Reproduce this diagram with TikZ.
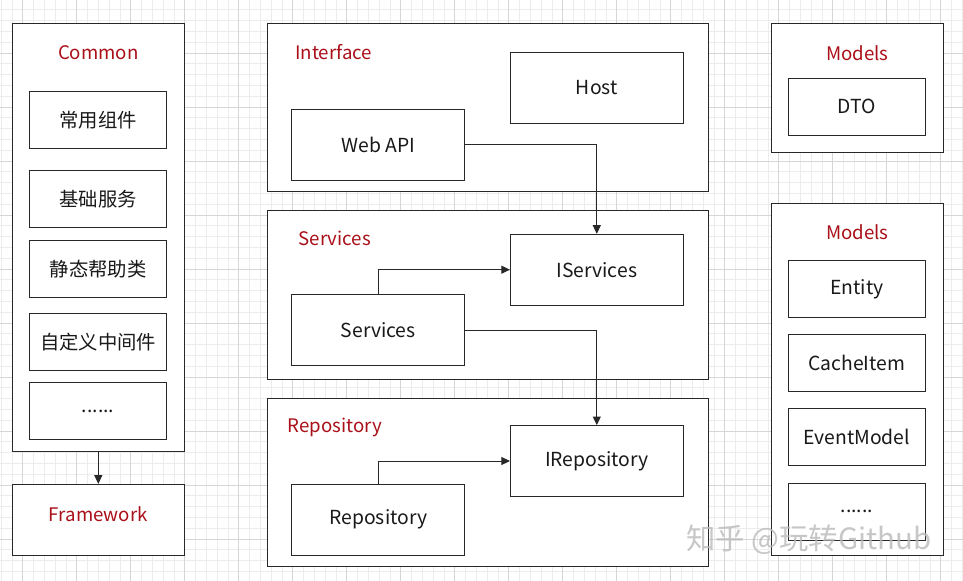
\documentclass[tikz,border=0pt]{standalone}
\usepackage{fontspec}
\setmainfont{Noto Sans CJK SC}
\usetikzlibrary{arrows.meta}
\definecolor{titlered}{RGB}{170,16,26}
\definecolor{gridminor}{RGB}{236,236,236}
\definecolor{gridmajor}{RGB}{214,214,214}
\definecolor{linegray}{RGB}{40,40,40}
\tikzset{
  box/.style={draw=linegray, fill=white, line width=0.75pt, inner sep=0pt,
    font=\fontsize{14.5}{17}\selectfont, text=black!90},
  comp/.style={box, minimum width=129.5pt, minimum height=53pt},
  item/.style={box, minimum width=102.5pt, minimum height=43pt},
  title/.style={text=titlered, font=\fontsize{14}{17}\selectfont, inner sep=0pt},
  link/.style={draw=linegray, line width=0.75pt, -{Triangle[width=6pt,length=6.5pt]}},
}
\begin{document}
\begin{tikzpicture}[x=0.75pt, y=-0.75pt]
    \useasboundingbox (0,0) rectangle (963,581);
    %Raster
    \fill[white] (0,0) rectangle (963,581);
    \foreach \i in {0,...,89} \draw[gridminor, line width=0.5pt] (1.1+10.8*\i,0) -- (1.1+10.8*\i,581);
    \foreach \j in {0,...,53} \draw[gridminor, line width=0.5pt] (0,9.8+10.8*\j) -- (963,9.8+10.8*\j);
    \foreach \i in {0,...,17} \draw[gridmajor, line width=0.5pt] (22.7+54*\i,0) -- (22.7+54*\i,581);
    \foreach \j in {0,...,10} \draw[gridmajor, line width=0.5pt] (0,53+54*\j) -- (963,53+54*\j);
    %Common
    \node[box, minimum width=129pt, minimum height=321pt] (common) at (98.3,237.2) {};
    \node[title] (commontitle) at (98.3,53) {Common};
    \node[item] (widgets)    at (98,120.3) {常用组件};
    \node[item] (baseserv)   at (98,198.8) {基础服务};
    \node[item] (helpers)    at (98,269.3) {静态帮助类};
    \node[item] (middleware) at (98,341.8) {自定义中间件};
    \node[item] (commonmore) at (98,411.2) {......};
    \node[comp, minimum width=129pt, text=titlered, font=\fontsize{14}{17}\selectfont,
      text depth=9pt] (framework) at (98.3,519.7) {Framework};
    \draw[link] (common.south) -- (framework.north);
    %Interface
    \node[box, minimum width=331pt, minimum height=126pt] (interface) at (488,107.3) {};
    \node[title, anchor=west] (interfacetitle) at (295,51.7) {Interface};
    \node[comp] (host)   at (596.8,87.8) {Host};
    \node[comp] (webapi) at (378.3,144.8) {Web API};
    %Services
    \node[box, minimum width=331pt, minimum height=126.7pt] (servlayer) at (488,294.8) {};
    \node[title, anchor=west] (servtitle) at (298.3,238.7) {Services};
    \node[comp] (iservices) at (596.8,269.7) {IServices};
    \node[comp] (services)  at (378.3,330.3) {Services};
    %Repository
    \node[box, minimum width=331pt, minimum height=125.8pt] (repolayer) at (488,482.2) {};
    \node[title, anchor=west] (repotitle) at (287.7,427.7) {Repository};
    \node[comp] (irepository) at (596.8,461) {IRepository};
    \node[comp] (repository)  at (378.3,519.7) {Repository};
    %Verbindungen
    \draw[link] (webapi.east) -| (iservices.north);
    \draw[link] (services.north) |- (iservices.west);
    \draw[link] (services.east) -| (irepository.north);
    \draw[link] (repository.north) |- (irepository.west);
    %Models
    \node[box, minimum width=129pt, minimum height=96.5pt] (dtomodels) at (857.3,87.7) {};
    \node[title] (dtotitle) at (857.3,53) {Models};
    \node[item] (dto) at (856.8,106.8) {DTO};
    \node[box, minimum width=129pt, minimum height=263.8pt] (models) at (857.3,379.2) {};
    \node[title] (modelstitle) at (857.3,232.3) {Models};
    \node[item] (entity)     at (856.8,289.2) {Entity};
    \node[item] (cacheitem)  at (856.8,362.8) {CacheItem};
    \node[item] (eventmodel) at (856.8,437.2) {EventModel};
    \node[item] (modelsmore) at (856.8,511.8) {......};
    %Wasserzeichen
    \node[text=gray!55, opacity=0.8, font=\fontsize{22}{26}\selectfont, inner sep=0pt] (watermark) at (809,540) {知乎 @玩转Github};
\end{tikzpicture}
\end{document}
